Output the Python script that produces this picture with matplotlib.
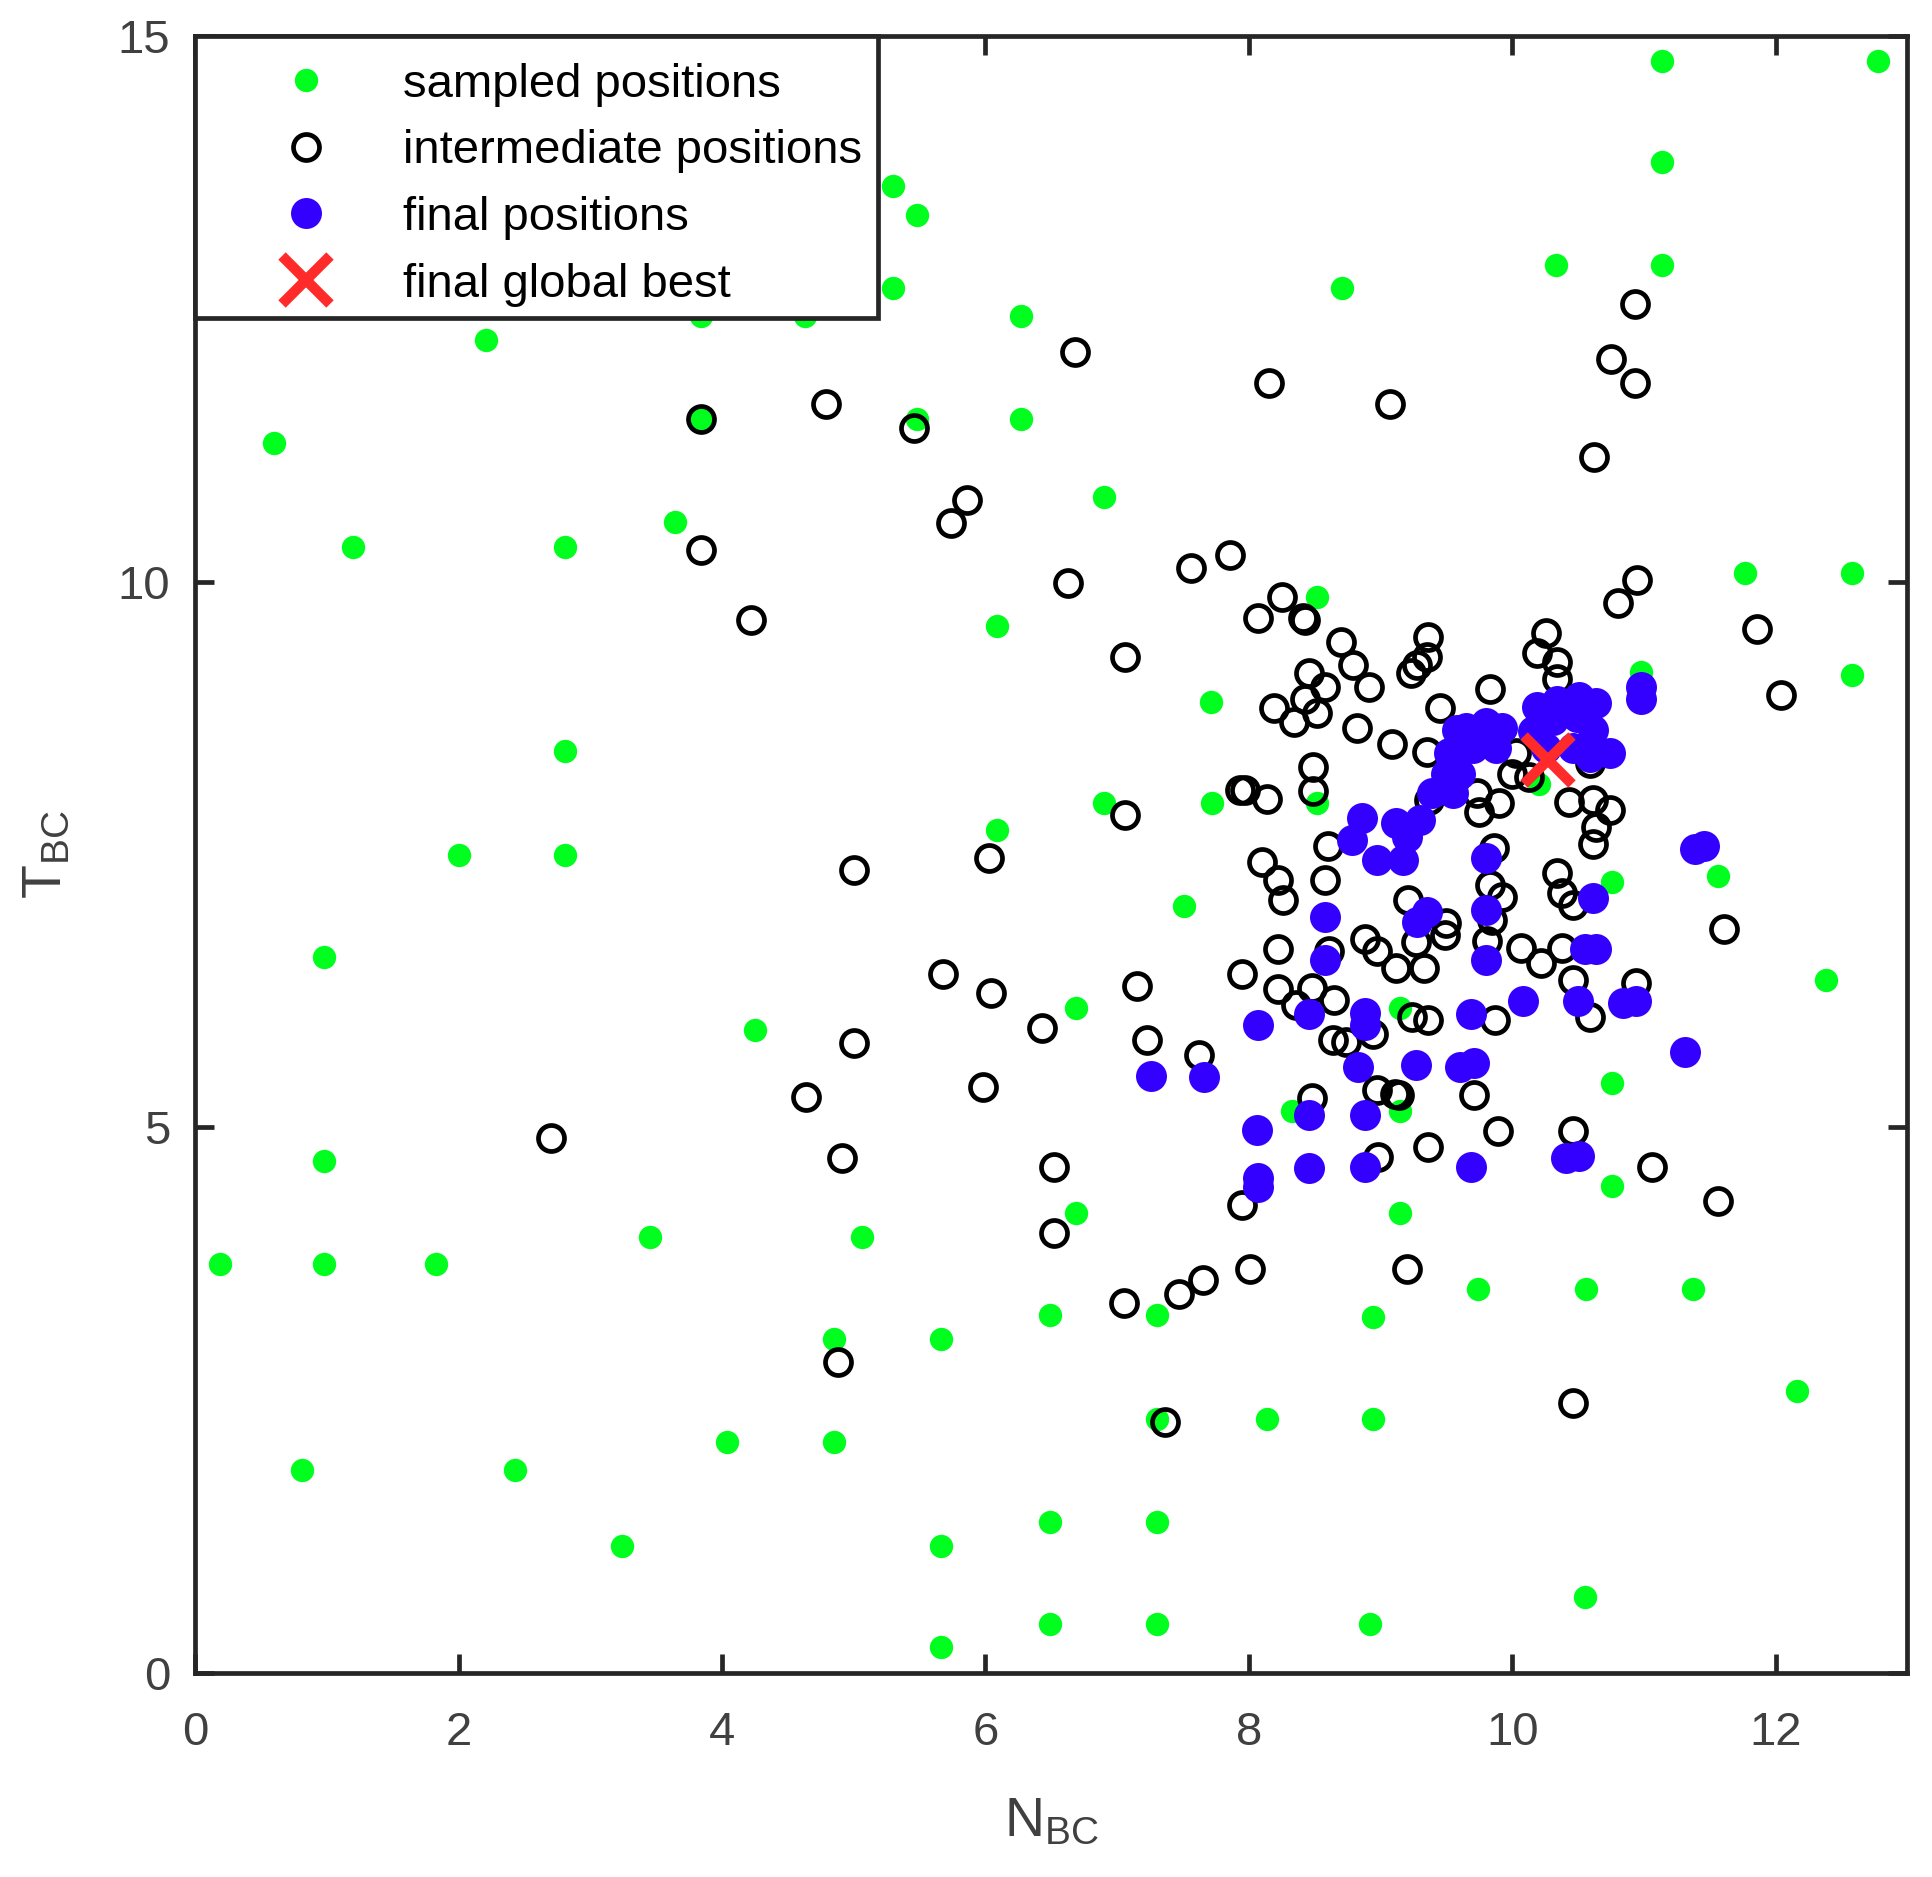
import matplotlib
matplotlib.use('Agg')
import matplotlib.pyplot as plt
from matplotlib.patches import Rectangle

plt.rcParams['font.family'] = ['Liberation Sans', 'DejaVu Sans']
plt.rcParams['mathtext.default'] = 'regular'

# sampled positions (green)
sampled_x = [11.14, 12.78, 11.14, 5.30, 5.48, 10.33, 11.14, 5.30, 8.71, 6.27,
             3.84, 4.63, 2.21, 0.60, 3.84, 5.48, 6.27, 6.90, 1.20, 2.81,
             3.64, 6.09, 8.52, 11.77, 12.58, 10.98, 12.58, 7.71, 2.81, 6.90,
             7.72, 8.52, 6.09, 2.00, 2.81, 10.76, 11.56, 7.51, 0.98, 12.38,
             4.25, 6.69, 9.15, 10.76, 9.15, 8.33, 0.98, 10.76, 5.06, 3.45,
             6.69, 9.15, 0.19, 0.98, 1.83, 9.74, 10.56, 11.37, 4.85, 5.66,
             6.49, 7.30, 8.94, 12.16, 7.30, 8.14, 8.94, 4.04, 4.85, 0.81,
             2.43, 3.24, 5.66, 6.49, 7.30, 10.55, 5.66, 6.49, 7.30, 8.92,
             10.20]
sampled_y = [14.77, 14.77, 13.84, 13.62, 13.36, 12.90, 12.90, 12.69, 12.69, 12.43,
             12.43, 12.43, 12.21, 11.27, 11.49, 11.49, 11.49, 10.77, 10.32, 10.32,
             10.55, 9.59, 9.86, 10.08, 10.08, 9.17, 9.14, 8.90, 8.45, 7.97,
             7.97, 7.97, 7.72, 7.50, 7.50, 7.25, 7.30, 7.03, 6.56, 6.35,
             5.89, 6.09, 6.09, 5.41, 5.15, 5.15, 4.69, 4.46, 4.00, 4.00,
             4.22, 4.22, 3.75, 3.75, 3.75, 3.52, 3.52, 3.52, 3.06, 3.06,
             3.28, 3.28, 3.26, 2.59, 2.33, 2.33, 2.33, 2.12, 2.12, 1.86,
             1.86, 1.17, 1.17, 1.39, 1.39, 0.70, 0.24, 0.45, 0.45, 0.45,
             8.15]

# intermediate positions (black open circles)
inter_x = [3.84, 4.79, 5.46, 6.68, 8.15, 9.07, 10.93, 10.75, 10.93, 10.62,
           5.86, 5.74, 3.84, 4.22, 11.86, 12.04, 5.00, 11.61, 5.00, 4.64,
           2.70, 4.91, 11.56, 7.05, 7.47, 4.88, 7.36,
           7.86, 7.56, 6.63, 7.06, 7.06, 6.03,
           5.68, 6.04, 6.43, 5.98, 7.15, 7.23, 7.62, 6.52, 6.52, 7.65,
           8.01, 9.20, 10.46,
           8.25, 8.07, 8.41, 8.43, 8.70, 9.36, 9.35, 9.28, 9.23, 8.79,
           8.91, 8.46, 8.58, 8.43, 8.52, 8.19, 8.34, 8.82, 9.09, 9.45,
           9.35, 8.49, 8.49, 7.93, 7.97, 8.14, 9.37, 8.60, 8.10, 8.22,
           8.58, 8.26, 9.21,
           10.95, 10.80, 10.26, 10.19, 10.34, 10.34, 9.83, 10.03, 10.00, 10.13,
           9.90, 9.75, 9.73, 10.43, 10.61, 10.74, 10.64, 10.61, 10.59, 9.86,
           10.34, 9.83, 10.38, 9.92,
           9.50, 9.49, 9.27, 8.88, 8.97, 9.12, 9.33, 8.61, 8.22, 7.95,
           8.22, 8.48, 8.65, 8.36, 9.24, 9.36, 8.94, 8.64, 8.74, 8.97,
           9.14, 9.11, 8.48, 9.36, 8.98, 7.95,
           9.85, 10.46, 9.81, 10.07, 10.22, 10.38, 10.46, 10.59, 10.94, 9.87,
           9.71, 9.89, 10.46, 11.06]
inter_y = [11.49, 11.63, 11.41, 12.10, 11.82, 11.63, 12.54, 12.04, 11.82, 11.14,
           10.75, 10.54, 10.29, 9.65, 9.57, 8.96, 7.36, 6.82, 5.77, 5.28,
           4.90, 4.72, 4.33, 3.39, 3.47, 2.85, 2.30,
           10.24, 10.12, 9.99, 9.31, 7.86, 7.47,
           6.41, 6.23, 5.91, 5.37, 6.30, 5.80, 5.66, 4.64, 4.03, 3.60,
           3.70, 3.70, 2.48,
           9.86, 9.67, 9.67, 9.65, 9.45, 9.49, 9.31, 9.24, 9.16, 9.24,
           9.03, 9.16, 9.03, 8.92, 8.80, 8.84, 8.71, 8.66, 8.51, 8.84,
           8.44, 8.30, 8.08, 8.09, 8.09, 8.01, 8.00, 7.58, 7.43, 7.27,
           7.27, 7.08, 7.08,
           10.01, 9.80, 9.53, 9.35, 9.26, 9.11, 9.02, 8.43, 8.24, 8.21,
           7.97, 7.89, 8.06, 7.98, 8.00, 7.91, 7.75, 7.60, 8.34, 7.56,
           7.33, 7.22, 7.15, 7.11,
           6.87, 6.76, 6.70, 6.73, 6.62, 6.46, 6.46, 6.62, 6.63, 6.41,
           6.27, 6.28, 6.17, 6.12, 6.01, 5.98, 5.86, 5.80, 5.78, 5.34,
           5.30, 5.31, 5.27, 4.82, 4.73, 4.29,
           6.90, 7.04, 6.71, 6.64, 6.51, 6.64, 6.35, 6.01, 6.32, 5.98,
           5.30, 4.97, 4.97, 4.64]

# final positions (blue)
final_x = [8.86, 8.78, 8.97, 9.17, 9.20, 9.12, 9.30, 9.39, 9.50, 9.52,
           9.58, 10.19, 10.34, 10.51, 10.64, 10.16, 10.31, 10.49, 10.61, 10.26,
           10.46, 10.59, 10.74, 10.98, 10.98, 9.65, 9.80, 9.92, 9.70, 9.88,
           9.60, 9.55, 9.80, 11.39, 11.46, 10.61, 9.80, 8.58, 9.35, 9.28,
           8.58, 8.46, 8.07, 8.88, 8.88, 8.83, 9.27, 9.60, 9.71, 7.66,
           7.26, 8.46, 8.88, 8.06, 8.46, 8.88, 8.07, 8.07, 9.69, 10.41,
           10.51, 9.80, 10.55, 10.64, 10.08, 9.69, 10.50, 10.84, 10.94, 11.31]
final_y = [7.83, 7.63, 7.45, 7.45, 7.66, 7.79, 7.82, 8.06, 8.24, 8.43,
           8.64, 8.85, 8.91, 8.94, 8.89, 8.63, 8.73, 8.76, 8.64, 8.48,
           8.48, 8.39, 8.43, 9.03, 8.92, 8.66, 8.70, 8.66, 8.48, 8.48,
           8.24, 8.06, 7.47, 7.55, 7.58, 7.10, 6.99, 6.93, 6.97, 6.88,
           6.53, 6.04, 5.94, 6.05, 5.94, 5.55, 5.57, 5.55, 5.59, 5.46,
           5.47, 5.11, 5.11, 4.98, 4.63, 4.64, 4.54, 4.45, 4.64, 4.72,
           4.74, 6.53, 6.63, 6.63, 6.16, 6.04, 6.16, 6.14, 6.16, 5.69]

# final global best
best_x = [10.27]
best_y = [8.37]

axis_color = '#262626'

fig = plt.figure(figsize=(19.33, 18.77), dpi=100)
ax = fig.add_axes([0.101, 0.1085, 0.8857, 0.8725])

ax.plot(sampled_x, sampled_y, 'o', color='#00ff1e', markersize=16.8,
        markeredgewidth=0, label='sampled positions')
ax.plot(inter_x, inter_y, 'o', markerfacecolor='none', markeredgecolor='black',
        markersize=18.7, markeredgewidth=3.4, label='intermediate positions')
ax.plot(final_x, final_y, 'o', color='#3300ff', markersize=22.3,
        markeredgewidth=0, label='final positions')
ax.plot(best_x, best_y, 'x', color='#ff2a2a', markersize=34,
        markeredgewidth=7.5, label='final global best')

ax.set_xlim(0, 13)
ax.set_ylim(0, 15)
ax.set_xticks([0, 2, 4, 6, 8, 10, 12])
ax.set_yticks([0, 5, 10, 15])

for sp in ax.spines.values():
    sp.set_linewidth(3.4)
    sp.set_color(axis_color)

ax.tick_params(direction='in', length=13.7, width=3.4, color=axis_color,
               top=True, right=True, labelsize=34, labelcolor='#404040')
ax.tick_params(axis='x', pad=27)
ax.tick_params(axis='y', pad=18)

ax.set_xlabel('$N_{BC}$', fontsize=40, color='#404040', labelpad=30)
ax.set_ylabel('$T_{BC}$', fontsize=40, color='#404040', labelpad=32)

# legend box drawn separately so its padding matches the original
box = Rectangle((0, 0.8276), 0.3988, 0.1724, transform=ax.transAxes,
                facecolor='white', edgecolor=axis_color, linewidth=3.4,
                zorder=4, clip_on=False)
ax.add_patch(box)

leg = ax.legend(loc='upper left', bbox_to_anchor=(0, 0.9965), borderaxespad=0,
                frameon=False, fontsize=34, numpoints=1,
                handlelength=3.8, handletextpad=0.15, borderpad=0.45,
                labelspacing=0.48)
leg.set_zorder(5)

fig.savefig('out.png', dpi=100)
